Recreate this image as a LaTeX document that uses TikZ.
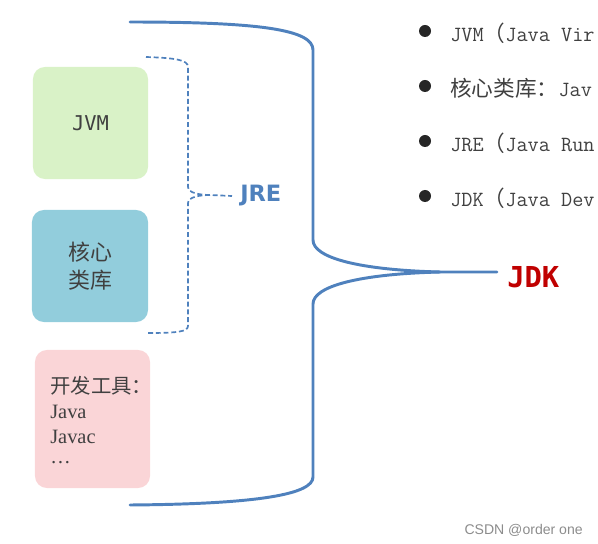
\documentclass[tikz,border=0pt]{standalone}
\usepackage{fontspec}
\setmainfont{Liberation Serif}
\newfontfamily\cjk{Noto Sans CJK SC}
\newfontfamily\dvmono{DejaVu Sans Mono}
\newfontfamily\dvsans{DejaVu Sans}
\newfontfamily\wmfont{Liberation Sans}
\usetikzlibrary{positioning}

\definecolor{lineblue}{RGB}{79,129,189}
\definecolor{jvmgreen}{RGB}{217,242,199}
\definecolor{libblue}{RGB}{146,205,220}
\definecolor{toolpink}{RGB}{250,213,215}
\definecolor{jdkred}{RGB}{192,0,0}

\tikzset{
  box/.style={rounded corners=0.3cm, minimum width=2.875cm, minimum height=2.8cm, text=black!75, align=center},
  dot/.style={circle, fill=black!85, minimum size=0.3cm, inner sep=0pt},
  item/.style={anchor=west, inner sep=0pt, text=black!75, font=\fontsize{15.4}{18}\selectfont\ttfamily},
  jdkbrace/.style={draw=lineblue, line width=2.1pt, line cap=round, line join=round},
  jrebrace/.style={draw=lineblue, line width=1.2pt, dash pattern=on 3.5pt off 2pt}
}

\begin{document}
\begin{tikzpicture}[x=0.025cm, y=-0.025cm]
  \useasboundingbox (0,0) rectangle (598,544);

  % boxes
  \node[box, fill=jvmgreen, font=\dvmono\fontsize{14.5}{18}\selectfont] (jvm) at (90.5,123) {JVM};
  \node[box, fill=libblue, minimum width=2.9cm, font=\cjk\fontsize{15.6}{20}\selectfont] (lib) at (90,266) {核心\\类库};
  \node[box, fill=toolpink, minimum height=3.45cm] (tools) at (92.5,419) {};
  \node[anchor=west, align=left, inner sep=0pt, text=black!75, font=\fontsize{14.5}{17.5}\selectfont] (toollist) at (50,410)
    {{\cjk 开发工具：}\\Java\\Javac};
  \node[anchor=base west, inner sep=0pt, text=black!75, font=\fontsize{14.5}{17.8}\selectfont] (more) at (50,463) {…};

  % JRE brace
  \coordinate (jretip) at (210,195);
  \node[anchor=west, inner sep=0pt, text=lineblue, font=\dvsans\bfseries\fontsize{16}{18}\selectfont] (jre) at (240,196) {JRE};
  \draw[jrebrace] (146,57) .. controls (176,58) and (188,60) .. (188,67) -- (188,187)
    .. controls (188,193) and (200,195) .. (jretip) -- ([xshift=-0.2cm]jre.west);
  \draw[jrebrace] (jretip) .. controls (200,195) and (188,197) .. (188,203) -- (188,326)
    .. controls (188,332) and (176,333) .. (146,333);

  % JDK brace
  \coordinate (jdktip) at (440,272);
  \node[anchor=west, inner sep=0pt, text=jdkred, font=\dvmono\bfseries\fontsize{20.5}{24}\selectfont] (jdk) at (507,277) {JDK};
  \draw[jdkbrace] (130,22) .. controls (262,22) and (313,30) .. (313,50) -- (313,240)
    .. controls (313,258) and (360,270) .. (jdktip) -- ([xshift=-0.25cm]jdk.west |- jdktip);
  \draw[jdkbrace] (jdktip) .. controls (360,274) and (313,286) .. (313,304) -- (313,477)
    .. controls (313,494) and (260,504) .. (130,505);

  % notes
  \node[dot] (d1) at (425,31) {};
  \node[dot] (d2) at (425,86) {};
  \node[dot] (d3) at (425,141) {};
  \node[dot] (d4) at (425,196) {};
  \node[item] (n1) at (450,33) {JVM{\cjk （}Java Vir};
  \node[item] (n2) at (450,88) {{\cjk 核心类库：}Jav};
  \node[item] (n3) at (450,143) {JRE{\cjk （}Java Run};
  \node[item] (n4) at (450,198) {JDK{\cjk （}Java Dev};

  \node[anchor=east, inner sep=0pt, text=black!45, font=\wmfont\fontsize{10}{12}\selectfont] (mark) at (583,530) {CSDN @order one};
\end{tikzpicture}
\end{document}
